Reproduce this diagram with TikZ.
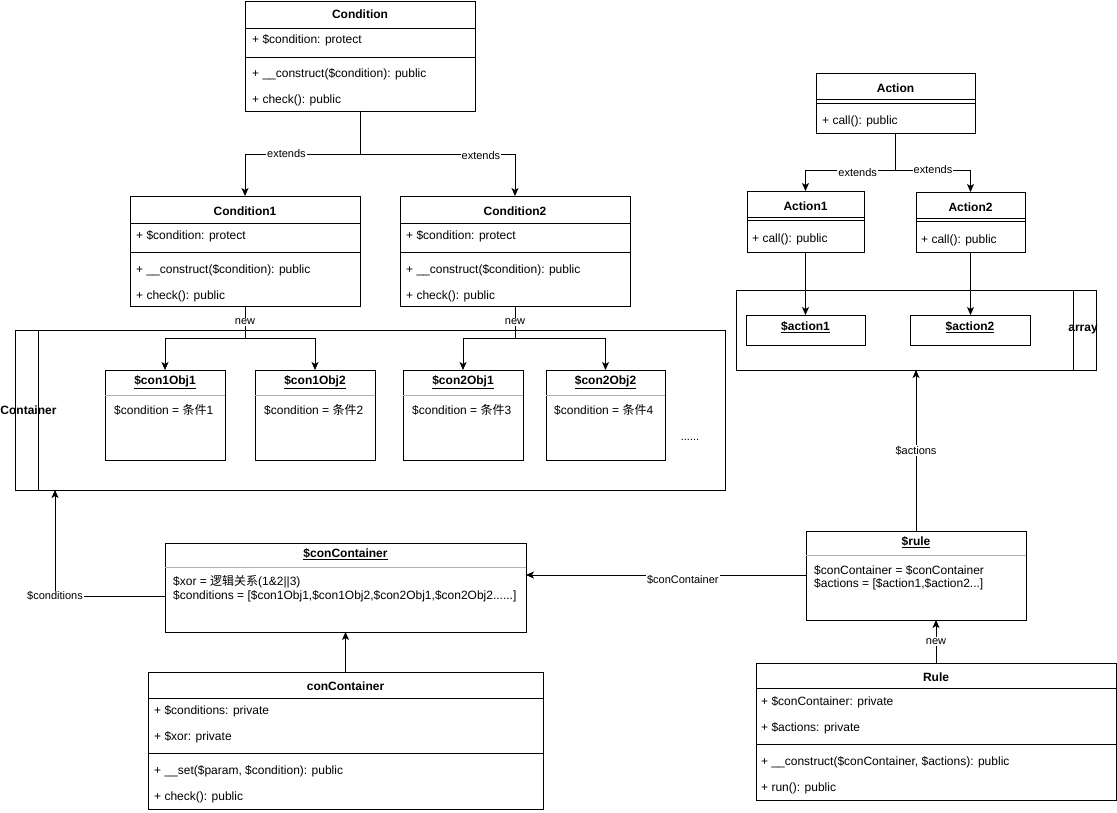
\documentclass[tikz,border=0pt]{standalone}
\usepackage{fontspec}
\setmainfont{Liberation Sans}
\newfontfamily\cjk{Noto Sans CJK SC}
\usetikzlibrary{arrows.meta}
\begin{document}
\begin{tikzpicture}[x=1pt,y=-1pt,
 box/.style={draw, line width=0.8pt, inner sep=0pt, outer sep=0pt, anchor=north west, fill=white},
 txt/.style={font=\fontsize{12}{14}\selectfont, inner sep=0pt, anchor=west},
 ttl/.style={font=\bfseries\fontsize{12}{14}\selectfont, inner sep=0pt},
 elbl/.style={font=\fontsize{11}{13}\selectfont, fill=white, inner sep=1pt},
 conn/.style={line width=0.8pt, -{Stealth[length=8pt,width=7pt,inset=2pt]}},
 plain/.style={line width=0.8pt},
 sep/.style={line width=0.8pt},
 gsep/.style={line width=0.8pt, draw=gray!60},
]
\useasboundingbox (0,0) rectangle (1117,813);

% ---------------- Condition ----------------
\node[box, minimum width=230pt, minimum height=110pt] (cond) at (245,1) {};
\draw[sep] (245,28) -- (475,28);
\draw[sep] (245,57) -- (475,57);
\node[ttl] (condT) at (360,14) {Condition};
\node[txt] (condA) at (252,40) {+ \$condition: protect};
\node[txt] (condM1) at (252,74) {+ \_\_construct(\$condition): public};
\node[txt] (condM2) at (252,100) {+ check(): public};

% ---------------- Condition1 ----------------
\node[box, minimum width=230pt, minimum height=110pt] (c1) at (130,196) {};
\draw[sep] (130,223) -- (360,223);
\draw[sep] (130,252) -- (360,252);
\node[ttl] (c1T) at (245,211) {Condition1};
\node[txt] (c1A) at (136,236) {+ \$condition: protect};
\node[txt] (c1M1) at (136,270) {+ \_\_construct(\$condition): public};
\node[txt] (c1M2) at (136,296) {+ check(): public};

% ---------------- Condition2 ----------------
\node[box, minimum width=230pt, minimum height=110pt] (c2) at (400,196) {};
\draw[sep] (400,223) -- (630,223);
\draw[sep] (400,252) -- (630,252);
\node[ttl] (c2T) at (515,211) {Condition2};
\node[txt] (c2A) at (406,236) {+ \$condition: protect};
\node[txt] (c2M1) at (406,270) {+ \_\_construct(\$condition): public};
\node[txt] (c2M2) at (406,296) {+ check(): public};

% extends
\coordinate (condJ) at (360,154);
\draw[plain] (cond.south) -- (condJ);
\draw[conn] (condJ) -| node[elbl, pos=0.32] {extends} (c1.north);
\draw[conn] (condJ) -| node[elbl, pos=0.39, yshift=-2pt] {extends} (c2.north);

% ---------------- Container ----------------
\node[box, minimum width=710pt, minimum height=160pt] (cont) at (15,330) {};
\draw[sep] (38,330) -- (38,490);
\node[ttl] (contT) at (28.5,410) {Container};

\node[box, minimum width=120pt, minimum height=90pt] (o11) at (105,370) {};
\node[box, minimum width=120pt, minimum height=90pt] (o12) at (255,370) {};
\node[box, minimum width=120pt, minimum height=90pt] (o21) at (403,370) {};
\node[box, minimum width=119pt, minimum height=90pt] (o22) at (546,370) {};
\draw[gsep] (105,395) -- (225,395);
\draw[gsep] (255,395) -- (375,395);
\draw[gsep] (403,395) -- (523,395);
\draw[gsep] (546,395) -- (665,395);
\node[ttl] (o11T) at (165,382) {\underline{\$con1Obj1}};
\node[ttl] (o12T) at (315,382) {\underline{\$con1Obj2}};
\node[ttl] (o21T) at (463,382) {\underline{\$con2Obj1}};
\node[ttl] (o22T) at (605.5,382) {\underline{\$con2Obj2}};
\node[txt] (o11A) at (114,410) {\$condition = {\cjk 条件}1};
\node[txt] (o12A) at (264,410) {\$condition = {\cjk 条件}2};
\node[txt] (o21A) at (412,410) {\$condition = {\cjk 条件}3};
\node[txt] (o22A) at (554,410) {\$condition = {\cjk 条件}4};
\node[font=\fontsize{11}{13}\selectfont, inner sep=0pt] (dots) at (690,440) {......};

% new arrows
\coordinate (n1) at (245,338);
\coordinate (n2) at (515,338);
\draw[plain] (c1.south) -- node[elbl] {new} (n1);
\draw[plain] (c2.south) -- node[elbl] {new} (n2);
\draw[conn] (n1) -| (o11.north);
\draw[conn] (n1) -| (o12.north);
\draw[conn] (n2) -| (o21.north);
\draw[conn] (n2) -| (o22.north);

% ---------------- Action ----------------
\node[box, minimum width=159pt, minimum height=60pt] (act) at (816,73) {};
\draw[sep] (816,99) -- (975,99);
\draw[sep] (816,103) -- (975,103);
\node[ttl] (actT) at (895.5,88) {Action};
\node[txt] (actM) at (822,121) {+ call(): public};

\node[box, minimum width=117pt, minimum height=61pt] (a1) at (747,191) {};
\draw[sep] (747,217) -- (864,217);
\draw[sep] (747,220) -- (864,220);
\node[ttl] (a1T) at (805.5,206) {Action1};
\node[txt] (a1M) at (752,239) {+ call(): public};

\node[box, minimum width=109pt, minimum height=60pt] (a2) at (916,192) {};
\draw[sep] (916,218) -- (1025,218);
\draw[sep] (916,221) -- (1025,221);
\node[ttl] (a2T) at (970.5,207) {Action2};
\node[txt] (a2M) at (921,240) {+ call(): public};

\coordinate (actJ) at (895.5,170);
\draw[plain] (act.south) -- (actJ);
\draw[conn] (actJ) -| node[elbl, pos=0.21, yshift=-3pt] {extends} (a1.north);
\draw[conn] (actJ) -| node[elbl, pos=0.25] {extends} (a2.north);

% array
\node[box, minimum width=360pt, minimum height=80pt] (arr) at (736,290) {};
\draw[sep] (1073,290) -- (1073,370);
\node[ttl] (arrT) at (1083,330) {array};
\node[box, minimum width=119pt, minimum height=30pt] (sa1) at (746,315) {};
\node[box, minimum width=120pt, minimum height=30pt] (sa2) at (910,315) {};
\node[ttl] (sa1T) at (805.5,327) {\underline{\$action1}};
\node[ttl] (sa2T) at (970,327) {\underline{\$action2}};
\draw[conn] (a1.south) -- (a1.south |- sa1.north);
\draw[conn] (a2.south) -- (a2.south |- sa2.north);

% ---------------- $rule ----------------
\node[box, minimum width=220pt, minimum height=89pt] (srule) at (806,531) {};
\draw[gsep] (806,555) -- (1026,555);
\node[ttl] (sruleT) at (916,542) {\underline{\$rule}};
\node[txt] (sruleA1) at (814,570) {\$conContainer = \$conContainer};
\node[txt] (sruleA2) at (814,584) {\$actions = [\$action1,\$action2...]};

\draw[conn] (srule.north) -- node[elbl] {\$actions} (arr.south);

% ---------------- Rule ----------------
\node[box, minimum width=360pt, minimum height=137pt] (rule) at (756,663) {};
\draw[sep] (756,688) -- (1116,688);
\draw[sep] (756,744) -- (1116,744);
\node[ttl] (ruleT) at (936,677) {Rule};
\node[txt] (ruleA1) at (761,702) {+ \$conContainer: private};
\node[txt] (ruleA2) at (761,728) {+ \$actions: private};
\node[txt] (ruleM1) at (761,762) {+ \_\_construct(\$conContainer, \$actions): public};
\node[txt] (ruleM2) at (761,788) {+ run(): public};
\draw[conn] (rule.north) -- node[elbl] {new} (rule.north |- srule.south);

% ---------------- $conContainer ----------------
\node[box, minimum width=361pt, minimum height=89pt] (scc) at (165,543) {};
\draw[gsep] (165,567) -- (526,567);
\node[ttl] (sccT) at (345.5,554) {\underline{\$conContainer}};
\node[txt] (sccA1) at (173,582) {\$xor = {\cjk 逻辑关系}(1\&2||3)};
\node[txt] (sccA2) at (173,596) {\$conditions = [\$con1Obj1,\$con1Obj2,\$con2Obj1,\$con2Obj2......]};

\draw[conn] (srule.west |- 0,575) -- node[elbl, pos=0.44, yshift=-5pt] {\$conContainer} (scc.east |- 0,575);

% ---------------- conContainer ----------------
\node[box, minimum width=395pt, minimum height=137pt] (cc) at (148,672) {};
\draw[sep] (148,698) -- (543,698);
\draw[sep] (148,753) -- (543,753);
\node[ttl] (ccT) at (345.5,686) {conContainer};
\node[txt] (ccA1) at (154,711) {+ \$conditions: private};
\node[txt] (ccA2) at (154,737) {+ \$xor: private};
\node[txt] (ccM1) at (154,771) {+ \_\_set(\$param, \$condition): public};
\node[txt] (ccM2) at (154,797) {+ check(): public};
\draw[conn] (cc.north) -- (scc.south);

\coordinate (condsC) at (55,596);
\draw[plain] (scc.west |- condsC) -- (condsC);
\draw[conn] (condsC) -- (cont.south -| condsC);
\node[elbl] (condsL) at (condsC) {\$conditions};
\end{tikzpicture}
\end{document}
